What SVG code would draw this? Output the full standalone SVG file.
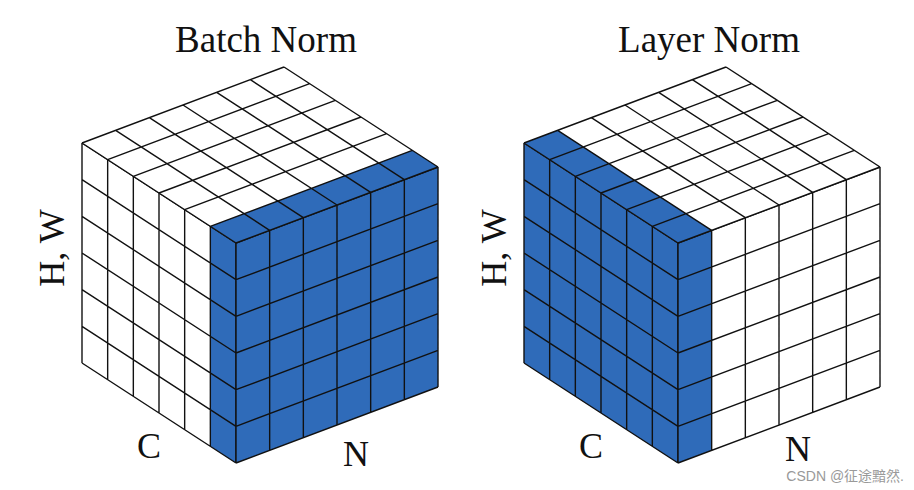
<svg xmlns="http://www.w3.org/2000/svg" xmlns:xlink="http://www.w3.org/1999/xlink" width="914" height="490" viewBox="0 0 914 490">
<style>
.t{font-family:"Liberation Serif",serif;fill:#111}
.g{fill:none;stroke:#111;stroke-width:1.4;vector-effect:non-scaling-stroke}
.w{fill:#fff}
.b{fill:#2f6bb9}
</style>
<defs>
<path id="grid" class="g" d="M0 0H6M0 1H6M0 2H6M0 3H6M0 4H6M0 5H6M0 6H6M0 0V6M1 0V6M2 0V6M3 0V6M4 0V6M5 0V6M6 0V6"/>
</defs>
<rect width="914" height="490" fill="#fff"/>
<text class="t" x="266" y="52" font-size="37" text-anchor="middle">Batch Norm</text>
<text class="t" x="709" y="52" font-size="37" text-anchor="middle">Layer Norm</text>
<g id="batch">
<g transform="matrix(-25.667,-16.667,0,-36.667,236,463)"><rect class="w" width="6" height="6"/><rect class="b" width="1" height="6"/><use xlink:href="#grid"/></g>
<g transform="matrix(33.667,-12.667,0,-36.667,236,463)"><rect class="b" width="6" height="6"/><use xlink:href="#grid"/></g>
<g transform="matrix(-25.667,-16.667,33.667,-12.667,236,243)"><rect class="w" width="6" height="6"/><rect class="b" width="1" height="6"/><use xlink:href="#grid"/></g>
<text class="t" x="64" y="248" font-size="36" text-anchor="middle" transform="rotate(-90 64 248)">H, W</text>
<text class="t" x="149" y="458" font-size="36" text-anchor="middle">C</text>
<text class="t" x="356" y="466" font-size="36" text-anchor="middle">N</text>
</g>
<g id="layer">
<g transform="matrix(-25.667,-16.667,0,-36.667,678,463)"><rect class="b" width="6" height="6"/><use xlink:href="#grid"/></g>
<g transform="matrix(33.667,-12.667,0,-36.667,678,463)"><rect class="w" width="6" height="6"/><rect class="b" width="1" height="6"/><use xlink:href="#grid"/></g>
<g transform="matrix(-25.667,-16.667,33.667,-12.667,678,243)"><rect class="w" width="6" height="6"/><rect class="b" width="6" height="1"/><use xlink:href="#grid"/></g>
<text class="t" x="506" y="248" font-size="36" text-anchor="middle" transform="rotate(-90 506 248)">H, W</text>
<text class="t" x="591" y="458" font-size="36" text-anchor="middle">C</text>
<text class="t" x="798" y="461" font-size="36" text-anchor="middle">N</text>
</g>
<g id="connectors"/>
<text x="904" y="481" font-size="14" text-anchor="end" fill="#999" font-family="'Liberation Sans','Noto Sans CJK SC',sans-serif">CSDN @征途黯然.</text>
</svg>
